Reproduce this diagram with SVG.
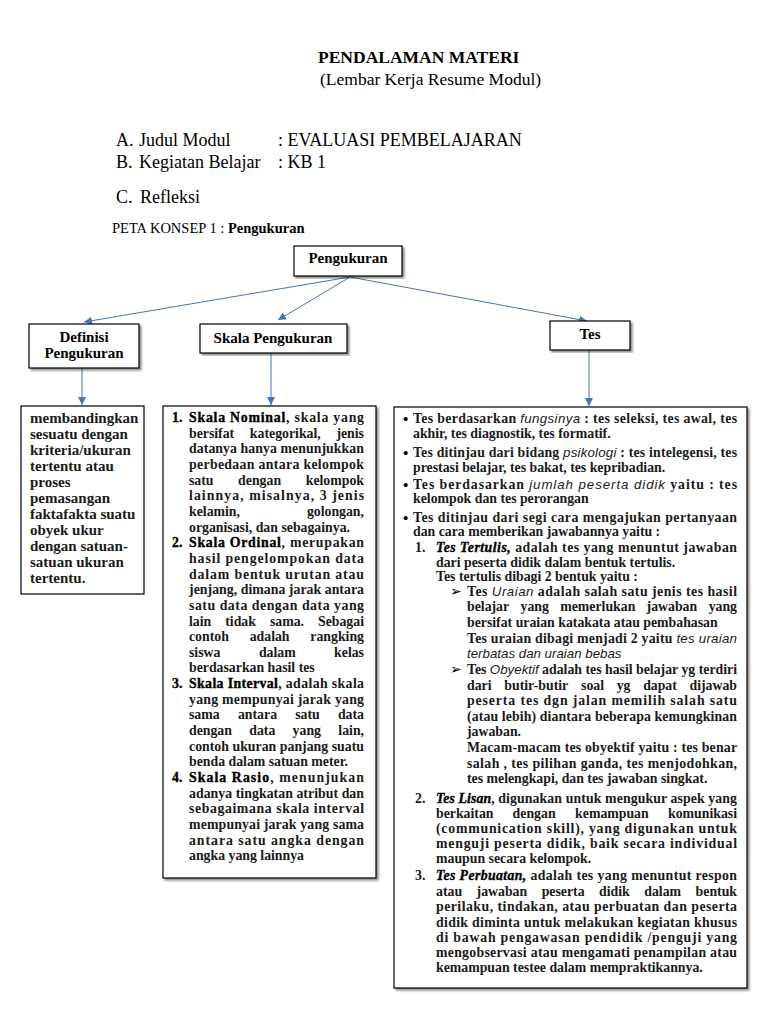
<svg xmlns="http://www.w3.org/2000/svg" width="768" height="1024" viewBox="0 0 768 1024">
<defs>
<style>
.t{font-family:"Liberation Serif",serif;fill:#000}
.h{font-size:17.5px}
.l{font-size:18px}
.bo{font-weight:bold}
.node text{font-family:"Liberation Serif",serif;font-weight:bold;font-size:15px;text-anchor:middle;fill:#000}
.box{fill:#fff;stroke:#000;stroke-width:1.2;filter:url(#sh)}
.b{font-family:"Liberation Serif",serif;font-weight:bold;font-size:13.8px;fill:#1a1a1a}
.lb{font-size:15px}
.k{fill:#000;stroke:#000;stroke-width:.35}
.i{font-family:"Liberation Sans",sans-serif;font-style:italic;font-weight:normal;font-size:13.3px}
.bi{font-style:italic}
.e{text-anchor:end}
.m{text-anchor:middle}
.ar{font-family:"DejaVu Sans",sans-serif;font-size:14px;font-weight:bold;fill:#000}
.dot{font-size:15px;fill:#000}
.c{stroke:#4472C4;stroke-width:1;fill:none;marker-end:url(#ah)}
</style>
<filter id="sh" x="-5%" y="-5%" width="115%" height="115%">
<feDropShadow dx="2" dy="2" stdDeviation="1.3" flood-color="#000" flood-opacity="0.45"/>
</filter>
<marker id="ah" viewBox="0 0 10 10" refX="10" refY="5" markerWidth="8" markerHeight="8" markerUnits="userSpaceOnUse" orient="auto">
<path d="M0,0 L10,5 L0,10 z" fill="#4472C4"/>
</marker>
</defs>
<rect width="768" height="1024" fill="#fff"/>

<g id="header" class="t">
<text x="318" y="63" class="h bo">PENDALAMAN MATERI</text>
<text x="320" y="85" class="h">(Lembar Kerja Resume Modul)</text>
<text x="116" y="146" class="l">A.</text>
<text x="139" y="146" class="l">Judul Modul</text>
<text x="278" y="146" class="l">: EVALUASI PEMBELAJARAN</text>
<text x="116" y="168" class="l">B.</text>
<text x="139" y="168" class="l">Kegiatan Belajar</text>
<text x="278" y="168" class="l">: KB 1</text>
<text x="116" y="203" class="l">C.</text>
<text x="140" y="203" class="l">Refleksi</text>
<text x="112" y="233" font-size="14.5">PETA KONSEP 1 : <tspan class="bo">Pengukuran</tspan></text>
</g>

<g id="connectors">
<path class="c" d="M350,277 L84,322"/>
<path class="c" d="M350,277 L278,320"/>
<path class="c" d="M350,277 L587,321"/>
<path class="c" d="M82,368 L82,405"/>
<path class="c" d="M271,353 L271,405"/>
<path class="c" d="M589,350 L589,406"/>
</g>

<g id="node-pengukuran" class="node">
<rect class="box" x="294" y="246" width="108" height="30"/>
<text x="348" y="263">Pengukuran</text>
</g>
<g id="node-definisi" class="node">
<rect class="box" x="29" y="324" width="110" height="44"/>
<text x="84" y="342">Definisi</text>
<text x="84" y="358">Pengukuran</text>
</g>
<g id="node-skala" class="node">
<rect class="box" x="200" y="324" width="147" height="29"/>
<text x="273" y="343">Skala Pengukuran</text>
</g>
<g id="node-tes" class="node">
<rect class="box" x="550" y="321" width="80" height="29"/>
<text x="590" y="339">Tes</text>
</g>

<g id="box-definisi">
<rect x="21" y="406" width="123" height="188" fill="#fff" stroke="#000" stroke-width="1.2"/>
<g class="b lb">
<text x="30" y="423">membandingkan</text>
<text x="30" y="439">sesuatu dengan</text>
<text x="30" y="455">kriteria/ukuran</text>
<text x="30" y="471">tertentu atau</text>
<text x="30" y="487">proses</text>
<text x="30" y="503">pemasangan</text>
<text x="30" y="519">faktafakta suatu</text>
<text x="30" y="535">obyek ukur</text>
<text x="30" y="551">dengan satuan-</text>
<text x="30" y="567">satuan ukuran</text>
<text x="30" y="583">tertentu.</text>
</g>
</g>

<g id="box-skala">
<rect class="box" x="163" y="406" width="213" height="472"/>
<g class="b">
<text x="172" y="422" class="k">1.</text>
<text x="189" y="422" textLength="175" lengthAdjust="spacing"><tspan class="k">Skala Nominal</tspan>, skala yang</text>
<text x="189" y="437.6">bersifat</text><text x="285.3" y="437.6" class="m">kategorikal,</text><text x="364" y="437.6" class="e">jenis</text>
<text x="189" y="453.3" textLength="175" lengthAdjust="spacing">datanya hanya menunjukkan</text>
<text x="189" y="469" textLength="175" lengthAdjust="spacing">perbedaan antara kelompok</text>
<text x="189" y="484.6">satu</text><text x="259.6" y="484.6" class="m">dengan</text><text x="364" y="484.6" class="e">kelompok</text>
<text x="189" y="500.3" textLength="175" lengthAdjust="spacing">lainnya, misalnya, 3 jenis</text>
<text x="189" y="515.9">kelamin,</text><text x="364" y="515.9" class="e">golongan,</text>
<text x="189" y="531.6">organisasi, dan sebagainya.</text>
<text x="172" y="547.2" class="k">2.</text>
<text x="189" y="547.2" textLength="175" lengthAdjust="spacing"><tspan class="k">Skala Ordinal</tspan>, merupakan</text>
<text x="189" y="562.9" textLength="175" lengthAdjust="spacing">hasil pengelompokan data</text>
<text x="189" y="578.5" textLength="175" lengthAdjust="spacing">dalam bentuk urutan atau</text>
<text x="189" y="594.2" textLength="175" lengthAdjust="spacing">jenjang, dimana jarak antara</text>
<text x="189" y="609.8" textLength="175" lengthAdjust="spacing">satu data dengan data yang</text>
<text x="189" y="625.5">lain</text><text x="240.6" y="625.5" class="m">tidak</text><text x="287" y="625.5" class="m">sama.</text><text x="364" y="625.5" class="e">Sebagai</text>
<text x="189" y="641.1">contoh</text><text x="269.6" y="641.1" class="m">adalah</text><text x="364" y="641.1" class="e">rangking</text>
<text x="189" y="656.8">siswa</text><text x="277.3" y="656.8" class="m">dalam</text><text x="364" y="656.8" class="e">kelas</text>
<text x="189" y="672.4">berdasarkan hasil tes</text>
<text x="172" y="688" class="k">3.</text>
<text x="189" y="688" textLength="175" lengthAdjust="spacing"><tspan class="k">Skala Interval</tspan>, adalah skala</text>
<text x="189" y="703.7" textLength="175" lengthAdjust="spacing">yang mempunyai jarak yang</text>
<text x="189" y="719.4">sama</text><text x="257.5" y="719.4" class="m">antara</text><text x="307.5" y="719.4" class="m">satu</text><text x="364" y="719.4" class="e">data</text>
<text x="189" y="735">dengan</text><text x="262.3" y="735" class="m">data</text><text x="306.8" y="735" class="m">yang</text><text x="364" y="735" class="e">lain,</text>
<text x="189" y="750.7" textLength="175" lengthAdjust="spacing">contoh ukuran panjang suatu</text>
<text x="189" y="766.3">benda dalam satuan meter.</text>
<text x="172" y="782" class="k">4.</text>
<text x="189" y="782" textLength="175" lengthAdjust="spacing"><tspan class="k">Skala Rasio</tspan>, menunjukan</text>
<text x="189" y="797.6" textLength="175" lengthAdjust="spacing">adanya tingkatan atribut dan</text>
<text x="189" y="813.3" textLength="175" lengthAdjust="spacing">sebagaimana skala interval</text>
<text x="189" y="828.9" textLength="175" lengthAdjust="spacing">mempunyai jarak yang sama</text>
<text x="189" y="844.6" textLength="175" lengthAdjust="spacing">antara satu angka dengan</text>
<text x="189" y="860.2">angka yang lainnya</text>
</g>
</g>

<g id="box-tes">
<rect class="box" x="394" y="407" width="353" height="581"/>
<g class="b">
<text x="403" y="424" class="dot">•</text>
<text x="413" y="423" textLength="324" lengthAdjust="spacing">Tes berdasarkan <tspan class="i">fungsinya</tspan> : tes seleksi, tes awal, tes</text>
<text x="413" y="438">akhir, tes diagnostik, tes formatif.</text>
<text x="403" y="458" class="dot">•</text>
<text x="413" y="457" textLength="324" lengthAdjust="spacing">Tes ditinjau dari bidang <tspan class="i">psikologi</tspan> : tes intelegensi, tes</text>
<text x="413" y="472">prestasi belajar, tes bakat, tes kepribadian.</text>
<text x="403" y="490" class="dot">•</text>
<text x="413" y="489" textLength="324" lengthAdjust="spacing">Tes berdasarkan <tspan class="i">jumlah peserta didik</tspan> yaitu : tes</text>
<text x="413" y="503">kelompok dan tes perorangan</text>
<text x="403" y="523" class="dot">•</text>
<text x="413" y="522" textLength="324" lengthAdjust="spacing">Tes ditinjau dari segi cara mengajukan pertanyaan</text>
<text x="413" y="536">dan cara memberikan jawabannya yaitu :</text>
<text x="415" y="552">1.</text>
<text x="436" y="552" textLength="301" lengthAdjust="spacing"><tspan class="k bi">Tes Tertulis,</tspan> adalah tes yang menuntut jawaban</text>
<text x="436" y="566.5">dari peserta didik dalam bentuk tertulis.</text>
<text x="436" y="581">Tes tertulis dibagi 2 bentuk yaitu :</text>
<text x="450" y="596" class="ar">➢</text>
<text x="467" y="596" textLength="270" lengthAdjust="spacing">Tes <tspan class="i">Uraian</tspan> adalah salah satu jenis tes hasil</text>
<text x="467" y="611">belajar</text><text x="534.7" y="611" class="m">yang</text><text x="597.8" y="611" class="m">memerlukan</text><text x="671.9" y="611" class="m">jawaban</text><text x="737" y="611" class="e">yang</text>
<text x="467" y="627">bersifat uraian katakata atau pembahasan</text>
<text x="467" y="643" textLength="270" lengthAdjust="spacing">Tes uraian dibagi menjadi 2 yaitu <tspan class="i">tes uraian</tspan></text>
<text x="467" y="658" class="i">terbatas dan uraian bebas</text>
<text x="450" y="674" class="ar">➢</text>
<text x="467" y="674" textLength="270" lengthAdjust="spacing">Tes <tspan class="i">Obyektif</tspan> adalah tes hasil belajar yg terdiri</text>
<text x="467" y="690">dari</text><text x="536.3" y="690" class="m">butir-butir</text><text x="592.6" y="690" class="m">soal</text><text x="623.6" y="690" class="m">yg</text><text x="660" y="690" class="m">dapat</text><text x="737" y="690" class="e">dijawab</text>
<text x="467" y="705" textLength="270" lengthAdjust="spacing">peserta tes dgn jalan memilih salah satu</text>
<text x="467" y="721" textLength="270" lengthAdjust="spacing">(atau lebih) diantara beberapa kemungkinan</text>
<text x="467" y="736">jawaban.</text>
<text x="467" y="752" textLength="270" lengthAdjust="spacing">Macam-macam tes obyektif yaitu : tes benar</text>
<text x="467" y="768" textLength="270" lengthAdjust="spacing">salah , tes pilihan ganda, tes menjodohkan,</text>
<text x="467" y="783">tes melengkapi, dan tes jawaban singkat.</text>
<text x="415" y="803">2.</text>
<text x="436" y="803" textLength="301" lengthAdjust="spacing"><tspan class="k bi">Tes Lisan</tspan>, digunakan untuk mengukur aspek yang</text>
<text x="436" y="818">berkaitan</text><text x="534.1" y="818" class="m">dengan</text><text x="611.9" y="818" class="m">kemampuan</text><text x="737" y="818" class="e">komunikasi</text>
<text x="436" y="833" textLength="301" lengthAdjust="spacing">(communication skill), yang digunakan untuk</text>
<text x="436" y="848" textLength="301" lengthAdjust="spacing">menguji peserta didik, baik secara individual</text>
<text x="436" y="863">maupun secara kelompok.</text>
<text x="415" y="880">3.</text>
<text x="436" y="880" textLength="301" lengthAdjust="spacing"><tspan class="k bi">Tes Perbuatan,</tspan> adalah tes yang menuntut respon</text>
<text x="436" y="896">atau</text><text x="501.9" y="896" class="m">jawaban</text><text x="563.1" y="896" class="m">peserta</text><text x="614.4" y="896" class="m">didik</text><text x="662.7" y="896" class="m">dalam</text><text x="737" y="896" class="e">bentuk</text>
<text x="436" y="911" textLength="301" lengthAdjust="spacing">perilaku, tindakan, atau perbuatan dan peserta</text>
<text x="436" y="927" textLength="301" lengthAdjust="spacing">didik diminta untuk melakukan kegiatan khusus</text>
<text x="436" y="942" textLength="301" lengthAdjust="spacing">di bawah pengawasan pendidik /penguji yang</text>
<text x="436" y="957" textLength="301" lengthAdjust="spacing">mengobservasi atau mengamati penampilan atau</text>
<text x="436" y="972">kemampuan testee dalam mempraktikannya.</text>
</g>
</g>
</svg>
